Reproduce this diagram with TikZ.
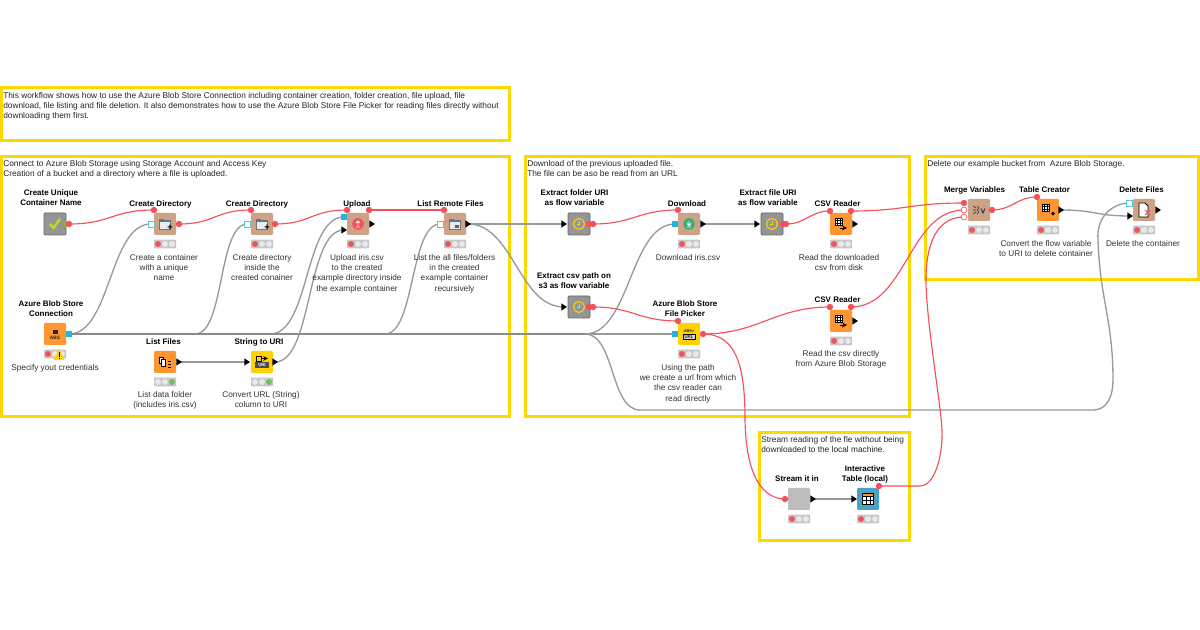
\documentclass[tikz,border=0pt]{standalone}
\usepackage{fontspec}
\setmainfont{Liberation Sans}
\usetikzlibrary{calc}
\pgfdeclarelayer{bg}
\pgfsetlayers{bg,main}
\definecolor{frameY}{HTML}{FFD800}
\definecolor{tanN}{HTML}{CDA286}
\definecolor{orangeN}{HTML}{FF9632}
\definecolor{yellowN}{HTML}{FFD200}
\definecolor{greyN}{HTML}{959595}
\definecolor{lightN}{HTML}{BDBDBD}
\definecolor{blueN}{HTML}{4BA2C6}
\definecolor{redP}{HTML}{F4505A}
\definecolor{cyanP}{HTML}{1DB6DC}
\definecolor{wire}{HTML}{999999}
\definecolor{inkI}{HTML}{2B3A47}
\definecolor{lampOff}{HTML}{E9E9E9}
\definecolor{lampG}{HTML}{6CBF5B}
\definecolor{dlG}{HTML}{3FAE74}
\tikzset{
  frame/.style={draw=frameY,line width=2.25pt},
  txt/.style={font=\fontsize{6.25pt}{7.7pt}\selectfont,text=black!85,inner sep=0pt,align=left,anchor=north west,yshift=-0.75pt},
  capt/.style={font=\fontsize{6.2pt}{7.7pt}\selectfont,text=black!80,inner sep=0pt,align=center,anchor=north,yshift=-0.75pt},
  ttl/.style={font=\fontsize{6pt}{7.7pt}\selectfont\bfseries,text=black,inner sep=0pt,align=center,anchor=north,yshift=-0.75pt},
  wf/.style={rectangle,rounded corners=0.8pt,minimum size=16.5pt,inner sep=0pt},
  metan/.style={wf,fill=greyN,draw=black!60,line width=.5pt},
  lampbox/.style={rectangle,fill=black!22,rounded corners=.5pt,minimum width=16.5pt,minimum height=6.4pt,inner sep=0pt},
  lamp/.style={circle,minimum size=4.4pt,inner sep=0pt},
  redport/.style={circle,fill=redP,minimum size=4.8pt,inner sep=0pt},
  redhollow/.style={circle,fill=white,draw=redP,line width=.5pt,minimum size=4.4pt,inner sep=0pt},
  cyanhollow/.style={rectangle,fill=white,draw=cyanP!75,line width=.6pt,minimum size=4.4pt,inner sep=0pt},
  cyanfull/.style={rectangle,fill=cyanP,minimum size=4.8pt,inner sep=0pt},
  fv/.style={draw=redP,line width=.85pt,line cap=round},
  dat/.style={draw=wire,line width=1pt,line cap=round},
  trunk/.style={draw=black!45,line width=1.4pt},
  ico/.style={font=\fontsize{3.6pt}{4pt}\selectfont\bfseries,inner sep=0pt},
}
\newcommand{\wfn}[5]{% name x y colour lamp
  \node[wf,fill=#4] (#1) at (#2,#3) {};
  \lamps{#1}{#5}}
\newcommand{\lamps}[2]{%
  \node[lampbox] (#1-st) at ($(#1)+(0,20)$) {};
  \ifnum#2=1 \node[lamp,fill=redP] (#1-a) at ($(#1)+(-7,20)$) {};\else\node[lamp,fill=lampOff] (#1-a) at ($(#1)+(-7,20)$) {};\fi
  \node[lamp,fill=lampOff] (#1-b) at ($(#1)+(0,20)$) {};
  \ifnum#2=3 \node[lamp,fill=lampG] (#1-c) at ($(#1)+(7,20)$) {};\else\node[lamp,fill=lampOff] (#1-c) at ($(#1)+(7,20)$) {};\fi}
\newcommand{\tri}[3]{%
  \coordinate (#1) at (#2,#3);
  \fill[black] ($(#1)+(-2.6,-3.6)$) -- ($(#1)+(3,0)$) -- ($(#1)+(-2.6,3.6)$) -- cycle;}
\newcommand{\clockI}[1]{\begin{scope}[shift={(#1)}]
  \draw[draw=yellowN,line width=.8pt] (0,0) circle (5.5);
  \draw[draw=yellowN,line width=.6pt] (0,-3) -- (0,0.5) -- (-2.5,.5);\end{scope}}
\newcommand{\folderI}[1]{\begin{scope}[shift={(#1)}]
  \fill[inkI!70] (-6,-5) rectangle (-1,-3);
  \fill[inkI!70] (-6,-3.5) rectangle (5,-1.5);
  \fill[white!90!inkI] (-6,-1.5) rectangle (5,5);
  \draw[inkI!70,line width=.3pt] (-6,-3.5) rectangle (5,5);\end{scope}}
\newcommand{\gridI}[1]{\begin{scope}[shift={(#1)}]
  \fill[white] (-6,-6) rectangle (1.5,1.5);
  \foreach \q in {-6,-3.5,-1,1.5} {\draw[black,line width=.4pt] (\q,-6) -- (\q,1.5) (-6,\q) -- (1.5,\q);}
  \end{scope}}
\begin{document}
\begin{tikzpicture}[x=0.75pt,y=-0.75pt]
\begin{pgfonlayer}{bg}
\fill[white] (0,0) rectangle (1200,630);
\end{pgfonlayer}
\useasboundingbox (0,0) rectangle (1200,630);

% workflow nodes
\node[metan] (cun) at (55,224) {};
\wfn{cd1}{165}{224}{tanN}{1}
\wfn{cd2}{262}{224}{tanN}{1}
\wfn{upl}{358}{224}{tanN}{1}
\wfn{lrf}{455}{224}{tanN}{1}
\wfn{abs}{55}{334}{orangeN}{1}
\wfn{lf}{165}{362}{orangeN}{3}
\wfn{s2u}{262}{362}{yellowN}{3}
\node[metan] (efo) at (579,224) {};
\wfn{dl}{689}{224}{tanN}{1}
\node[metan] (efi) at (772,224) {};
\wfn{csv1}{841}{224}{orangeN}{1}
\node[metan] (ecs) at (579,307) {};
\wfn{pick}{689}{334}{yellowN}{1}
\wfn{csv2}{841}{321}{orangeN}{1}
\wfn{mrg}{979}{210}{tanN}{1}
\wfn{tc}{1048}{210}{orangeN}{1}
\wfn{del}{1144}{210}{tanN}{1}
\wfn{str}{799}{499}{lightN}{1}
\wfn{itb}{868}{499}{blueN}{1}

% icons
\begin{scope}[shift={(cun)}]
  \draw[draw=yellow!75!green,line width=1.7pt] (-5,0) -- (-1.5,4) -- (5,-5);
\end{scope}
\clockI{efo}\clockI{ecs}\clockI{efi}
\folderI{cd1}\folderI{cd2}\folderI{lrf}
\node[ico,font=\bfseries\fontsize{7pt}{7pt}\selectfont,text=black] (cd1plus) at ($(cd1)+(5,4)$) {+};
\node[ico,font=\bfseries\fontsize{7pt}{7pt}\selectfont,text=black] (cd2plus) at ($(cd2)+(5,4)$) {+};
\fill[inkI!80] ($(lrf)+(0,1)$) rectangle ($(lrf)+(4,3.7)$);
\begin{scope}[shift={(upl)}]
  \fill[redP] (0,0) circle (5.8);
  \draw[white,line width=.7pt] (0,2) -- (0,-3) (-2,-1) -- (0,-3) -- (2,-1) (-2,3) -- (2,3);
\end{scope}
\begin{scope}[shift={(dl)}]
  \fill[dlG] (0,0) circle (5.8);
  \draw[white,line width=.7pt] (0,-3) -- (0,1.5) (-2,-.5) -- (0,1.5) -- (2,-.5) (-2,3) -- (2,3);
\end{scope}
\begin{scope}[shift={(abs)}]
  \fill[black!85] (-2.5,-3.5) rectangle (2.5,0);
  \draw[black!85,line width=.5pt] (-1.5,-3.5) arc (180:0:1.5);
\end{scope}
\node[ico,text=black!85] (absT) at ($(abs)+(0,4)$) {ABS};
\begin{scope}[shift={(lf)}]
  \draw[black,fill=white,line width=.4pt] (-6,-5) rectangle (-2,1);
  \draw[black,fill=white,line width=.4pt] (-4,-3) rectangle (0,4);
  \draw[black,line width=.6pt] (3,-1) -- (6,-1) (3,2) -- (6,2) (3,5) -- (6,5);
\end{scope}
\begin{scope}[shift={(s2u)}]
  \draw[black,fill=yellowN,line width=.4pt] (-6,-6) rectangle (-1,-1);
  \draw[black,line width=.6pt,-stealth] (0,-3.5) -- (6,-3.5);
  \fill[black!70] (-7,0) rectangle (7,6);
\end{scope}
\node[ico,text=white,font=\bfseries\fontsize{3.2pt}{4pt}\selectfont] (s2uT) at ($(s2u)+(0,3)$) {URI};
\begin{scope}[shift={(pick)}]
  \draw[black,fill=white!85!black,line width=.4pt] (-6,0) rectangle (6,5.5);
\end{scope}
\node[ico,font=\bfseries\fontsize{3pt}{3pt}\selectfont,text=black!85] (pickA) at ($(pick)+(0,-3)$) {ABS>};
\node[ico,font=\bfseries\fontsize{3.2pt}{3pt}\selectfont,text=black!85] (pickU) at ($(pick)+(0,2.8)$) {URL};
\gridI{csv1}\draw[black,line width=.7pt,-stealth] ($(csv1)+(-1,4)$) -- ($(csv1)+(6,4)$);
\gridI{csv2}\draw[black,line width=.7pt,-stealth] ($(csv2)+(-1,4)$) -- ($(csv2)+(6,4)$);
\gridI{tc}
\begin{scope}[shift={(tc)}]
  \fill[black] (5,1.7) -- (7,3.7) -- (5,5.7) -- (3,3.7) -- cycle;
\end{scope}
\begin{scope}[shift={(del)}]
  \draw[black,fill=white,line width=.6pt] (-5,-7) -- (1,-7) -- (4,-4) -- (4,7) -- (-5,7) -- cycle;
  \draw[redP,line width=.8pt] (1,0) -- (6,5) (6,0) -- (1,5);
\end{scope}
\begin{scope}[shift={(mrg)}]
  \draw[black!80,line width=.5pt] (-6,-4) -- (-3,-2) (-6,0) -- (-3,0) (-6,4) -- (-3,2);
  \draw[black!80,line width=.5pt] (-2,-4) -- (0,-2) -- (-2,0) -- (0,2) -- (-2,4);
  \draw[black!80,line width=.7pt] (2,-1.5) -- (4,3) -- (6,-1.5);
\end{scope}
\begin{scope}[shift={(itb)}]
  \fill[white] (-5.5,-5.5) rectangle (5.5,5.5);
  \fill[orangeN] (-5.5,-5.5) rectangle (5.5,-2.5);
  \draw[black,line width=.4pt] (-5.5,-5.5) rectangle (5.5,5.5) (-5.5,-2.5) -- (5.5,-2.5) (-5.5,1.5) -- (5.5,1.5) (-1.8,-2.5) -- (-1.8,5.5) (1.8,-2.5) -- (1.8,5.5);
\end{scope}
% warning on connection
\fill[yellowN] ($(abs)+(4,15)$) -- ($(abs)+(-1.5,26)$) -- ($(abs)+(9.5,26)$) -- cycle;
\fill[black] ($(abs)+(3.5,18.5)$) rectangle ($(abs)+(4.5,23)$);
\fill[black] ($(abs)+(3.5,23.7)$) rectangle ($(abs)+(4.5,24.9)$);

% ports
\node[redport,fill=yellow!70!green!70!black] (cunO0) at (65,224) {};
\node[redport] (cunO) at (69,224) {};
\node[redport] (cd1V) at (154,210) {};
\node[redport] (cd1O) at (179,224) {};
\node[cyanhollow] (cd1I) at (151,224) {};
\node[redport] (cd2V) at (251,210) {};
\node[redport] (cd2O) at (275,224) {};
\node[cyanhollow] (cd2I) at (247.5,224) {};
\node[redport] (uplV) at (347,210) {};
\node[redport] (uplW) at (369,210) {};
\node[cyanfull] (uplI) at (344,217) {};
\tri{uplJ}{344}{230}
\tri{uplO}{372}{224}
\node[redport] (lrfV) at (444,210) {};
\node[cyanhollow] (lrfI) at (440,224) {};
\tri{lrfO}{468}{224}
\node[cyanfull] (absO) at (69,334) {};
\tri{lfO}{179}{362}
\tri{s2uI}{247}{362}
\tri{s2uO}{275}{362}
\tri{efoI}{564}{224}
\node[redport] (efoO0) at (589,224) {};
\node[redport] (efoO) at (593,224) {};
\tri{ecsI}{564}{307}
\node[redport] (ecsO0) at (589,307) {};
\node[redport] (ecsO) at (593,307) {};
\node[redport] (dlV) at (678,210) {};
\node[cyanfull] (dlI) at (675,224) {};
\tri{dlO}{703}{224}
\tri{efiI}{757}{224}
\node[redport] (efiO0) at (783,224) {};
\node[redport] (efiO) at (786,224) {};
\node[redport] (csv1V) at (830,211) {};
\node[redport] (csv1W) at (851,211) {};
\tri{csv1O}{855}{224}
\node[redport] (pickV) at (678,321) {};
\node[cyanfull] (pickI) at (675,334) {};
\node[redport] (pickO) at (703,334) {};
\node[redport] (csv2V) at (830,307) {};
\node[redport] (csv2W) at (851,307) {};
\tri{csv2O}{855}{321}
\node[redport] (mrgA) at (964,203) {};
\node[redhollow] (mrgB) at (964,210) {};
\node[redhollow] (mrgC) at (964,217) {};
\node[redport] (mrgO) at (992,210) {};
\node[redport] (tcV) at (1037,197) {};
\tri{tcO}{1061}{210}
\node[cyanhollow] (delI) at (1129.5,203) {};
\tri{delJ}{1130}{216}
\tri{delO}{1158}{210}
\node[redport] (strV) at (785,499) {};
\tri{strO}{813}{499}
\tri{itbI}{854}{499}
\node[redport] (itbV) at (879,486) {};

% helper waypoints
\coordinate (t2) at (195,334);
\coordinate (t3) at (270,334);
\coordinate (t4) at (385,334);
\coordinate (t5) at (585,334);
\coordinate (d1) at (640,410);
\coordinate (d2) at (1093,410);
\coordinate (d3) at (1113,380);
\coordinate (d4) at (1098,240);
\coordinate (f1) at (745,420);
\coordinate (i1) at (920,486);
\coordinate (i2) at (942,430);
\coordinate (i3) at (926,280);

\begin{pgfonlayer}{bg}
\draw[frame] (1,88) rectangle (509,141);
\draw[frame] (1,157) rectangle (509,417);
\draw[frame] (525,157) rectangle (909,417);
\draw[frame] (925,157) rectangle (1198,280);
\draw[frame] (759,433) rectangle (909,541);

% data connections
\draw[dat] (absO.center) .. controls +(42,0) and +(-42,0) .. (cd1I.center);
\draw[dat] (t2) .. controls +(30,0) and +(-30,0) .. (cd2I.center);
\draw[dat] (t3) .. controls +(40,0) and +(-40,0) .. (uplI.center);
\draw[dat] (t4) .. controls +(30,0) and +(-30,0) .. (lrfI.center);
\draw[dat] (t5) .. controls +(45,0) and +(-45,0) .. (dlI.center);
\draw[dat] (t5) -- (pickI.center);
\draw[dat] (t5) .. controls +(30,0) and +(-30,0) .. (d1) -- (d2)
   .. controls +(15,0) and +(0,15) .. (d3) .. controls +(0,-60) and +(2,60) .. (d4)
   .. controls +(-2,-25) and +(-15,0) .. (delI.center);
\draw[trunk] (absO.center) -- (t5);
\draw[dat] (lfO) -- (s2uI);
\draw[dat] (s2uO) .. controls +(38,0) and +(-38,0) .. (uplJ);
\draw[dat] (lrfO) -- (efoI);
\draw[dat] (lrfO) .. controls +(45,0) and +(-45,0) .. (ecsI);
\draw[dat] (dlO) -- (efiI);
\draw[dat] (tcO) .. controls +(35,0) and +(-35,0) .. (delJ);
\draw[dat] (strO) -- (itbI);

% flow variable connections
\draw[fv] (cunO.center) .. controls +(42,0) and +(-42,0) .. (cd1V.center);
\draw[fv] (cd1O.center) .. controls +(36,0) and +(-36,0) .. (cd2V.center);
\draw[fv] (cd2O.center) .. controls +(36,0) and +(-36,0) .. (uplV.center);
\draw[fv] (uplW.center) -- (lrfV.center);
\draw[fv] (efoO.center) .. controls +(40,0) and +(-40,0) .. (dlV.center);
\draw[fv] (ecsO.center) .. controls +(40,0) and +(-40,0) .. (pickV.center);
\draw[fv] (efiO.center) .. controls +(20,0) and +(-20,0) .. (csv1V.center);
\draw[fv] (csv1W.center) .. controls +(55,0) and +(-55,0) .. (mrgA.center);
\draw[fv] (pickO.center) .. controls +(55,0) and +(-55,0) .. (csv2V.center);
\draw[fv] (csv2W.center) .. controls +(55,0) and +(-55,0) .. (mrgB.center);
\draw[fv] (pickO.center) .. controls +(35,0) and +(0,-50) .. (f1) .. controls +(1,60) and +(-20,0) .. (strV.center);
\draw[fv] (itbV.center) -- (i1) .. controls +(15,0) and +(1,25) .. (i2) .. controls +(-1,-25) and +(0,40) .. (i3) .. controls +(0,-40) and +(-25,0) .. (mrgC.center);
\draw[fv] (mrgO.center) .. controls +(20,0) and +(-20,0) .. (tcV.center);
\end{pgfonlayer}

% annotations
\node[txt] (n0) at (3,91) {This workflow shows how to use the Azure Blob Store Connection including container creation, folder creation, file upload, file\\download, file listing and file deletion. It also demonstrates how to use the Azure Blob Store File Picker for reading files directly without\\downloading them first.};
\node[txt] (n1) at (3,159) {Connect to Azure Blob Storage using Storage Account and Access Key\\Creation of a bucket and a directory where a file is uploaded.};
\node[txt] (n2) at (527,159) {Download of the previous uploaded file.\\The file can be aso be read from an URL};
\node[txt] (n3) at (927,159) {Delete our example bucket from \ Azure Blob Storage.};
\node[txt] (n4) at (761,435) {Stream reading of the fle without being\\downloaded to the local machine.};

% titles
\node[ttl] (t-cun) at (51,188) {Create Unique\\Container Name};
\node[ttl] (t-cd1) at (160.5,199) {Create Directory};
\node[ttl] (t-cd2) at (257,199) {Create Directory};
\node[ttl] (t-upl) at (357,199) {Upload};
\node[ttl] (t-lrf) at (450.5,199) {List Remote Files};
\node[ttl] (t-abs) at (51,299) {Azure Blob Store\\Connection};
\node[ttl] (t-lf) at (163.5,337) {List Files};
\node[ttl] (t-s2u) at (259,337) {String to URI};
\node[ttl] (t-efo) at (574.5,188) {Extract folder URI\\as flow variable};
\node[ttl] (t-dl) at (687,199) {Download};
\node[ttl] (t-efi) at (768,188) {Extract file URI\\as flow variable};
\node[ttl] (t-csv1) at (837.5,199) {CSV Reader};
\node[ttl] (t-ecs) at (574,271) {Extract csv path on\\s3 as flow variable};
\node[ttl] (t-pick) at (685,299) {Azure Blob Store\\File Picker};
\node[ttl] (t-csv2) at (837.5,295) {CSV Reader};
\node[ttl] (t-mrg) at (974.5,185) {Merge Variables};
\node[ttl] (t-tc) at (1044.5,185) {Table Creator};
\node[ttl] (t-del) at (1141.5,185) {Delete Files};
\node[ttl] (t-str) at (797,474) {Stream it in};
\node[ttl] (t-itb) at (865,464) {Interactive\\Table (local)};

% captions
\node[capt] (c-cd1) at (164,253) {Create a container\\with a unique\\name};
\node[capt] (c-cd2) at (262,253) {Create directory\\inside the\\created conainer};
\node[capt] (c-upl) at (357,253) {Upload iris.csv\\to the created\\example directory inside\\the example container};
\node[capt] (c-lrf) at (454.5,253) {List the all files/folders\\in the created\\example container\\recursively};
\node[capt] (c-abs) at (55,363) {Specify yout credentials};
\node[capt] (c-lf) at (165,390) {List data folder\\(includes iris.csv)};
\node[capt] (c-s2u) at (261,390) {Convert URL (String)\\column to URI};
\node[capt] (c-dl) at (688,253) {Download iris.csv};
\node[capt] (c-csv1) at (839,253) {Read the downloaded\\csv from disk};
\node[capt] (c-pick) at (688,363) {Using the path\\we create a url from which\\the csv reader can\\read directly};
\node[capt] (c-csv2) at (841,349) {Read the csv directly\\from Azure Blob Storage};
\node[capt] (c-tc) at (1046,239) {Convert the flow variable\\to URI to delete container};
\node[capt] (c-del) at (1143,239) {Delete the container};
\end{tikzpicture}
\end{document}
